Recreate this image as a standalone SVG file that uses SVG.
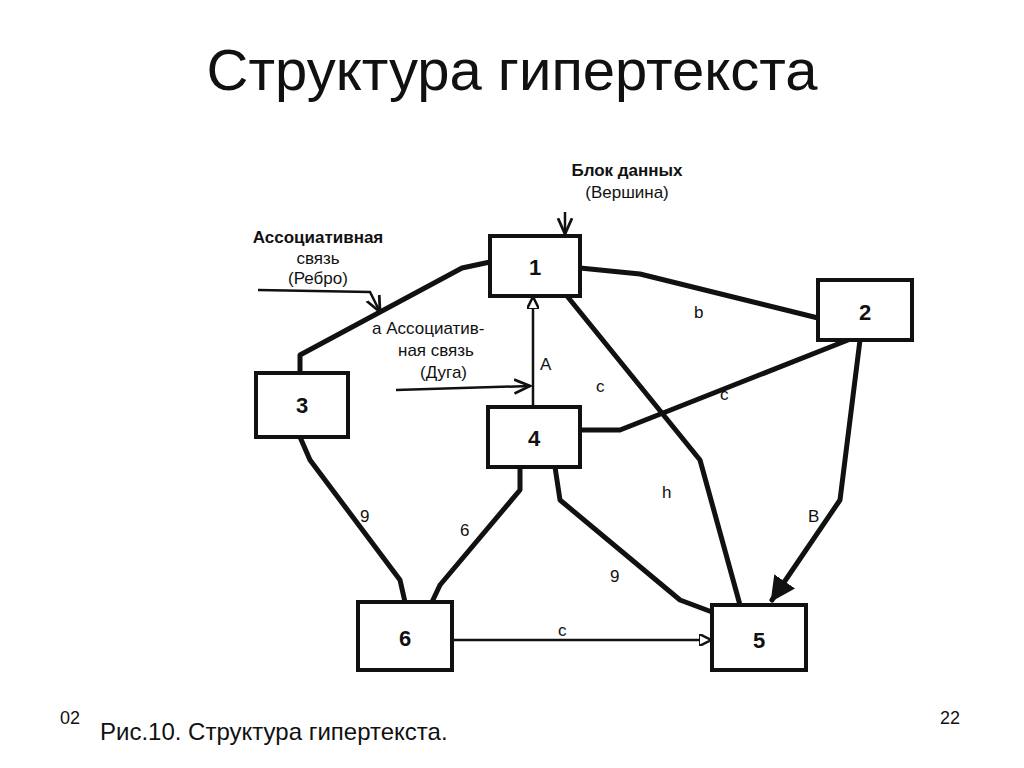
<svg xmlns="http://www.w3.org/2000/svg" width="1024" height="768" viewBox="0 0 1024 768">
<style>
text{font-family:"Liberation Sans",Arial,sans-serif;fill:#111}
.n rect{fill:#fff;stroke:#111;stroke-width:4}
.n text{font-size:22px;font-weight:bold;text-anchor:middle}
.e{fill:none;stroke:#111;stroke-width:5;stroke-linecap:round;stroke-linejoin:round}
.t{fill:none;stroke:#111;stroke-width:2.5}
.l{font-size:17px}
</style>
<defs>
<marker id="o" viewBox="0 0 10 10" refX="9" refY="5" markerWidth="5" markerHeight="5" orient="auto"><path d="M0,0L10,5L0,10Z" fill="#fff" stroke="#111" stroke-width="2"/></marker>
<marker id="f" viewBox="0 0 10 10" refX="9" refY="5" markerWidth="5" markerHeight="5" orient="auto"><path d="M0,0L10,5L0,10Z" fill="#111"/></marker>
<marker id="p" viewBox="0 0 10 10" refX="9" refY="5" markerWidth="7" markerHeight="7" orient="auto"><path d="M0,1L9,5L0,9" fill="none" stroke="#111" stroke-width="1.6"/></marker>
</defs>
<rect width="1024" height="768" fill="#fff"/>
<text x="512" y="90" font-size="58" text-anchor="middle">Структура гипертекста</text>
<g id="connectors">
<path class="e" d="M580,268 L640,274 L818,318"/>
<path class="e" d="M490,262 L462,268 L300,355 L300,373"/>
<path class="e" d="M567,296 L700,460 L740,605"/>
<path class="t" d="M533,407 L533,298" marker-end="url(#o)"/>
<path class="e" d="M580,430 L620,430 L848,340"/>
<path class="e" d="M860,340 L840,500 L772,600" marker-end="url(#f)"/>
<path class="e" d="M300,437 L310,460 L400,580 L405,602"/>
<path class="e" d="M520,467 L520,490 L440,585 L432,602"/>
<path class="e" d="M555,467 L560,500 L680,600 L712,612"/>
<path class="t" d="M452,640 L710,640" marker-end="url(#o)"/>
<path class="t" d="M565,212 L565,234" marker-end="url(#p)"/>
<path class="t" d="M258,290 L370,292 L380,312" marker-end="url(#p)"/>
<path class="t" d="M396,390 L530,386" marker-end="url(#p)"/>
</g>
<g id="n1" class="n"><rect x="490" y="236" width="90" height="60"/><text x="535" y="275">1</text></g>
<g id="n2" class="n"><rect x="818" y="280" width="94" height="60"/><text x="865" y="320">2</text></g>
<g id="n3" class="n"><rect x="256" y="373" width="92" height="64"/><text x="302" y="413">3</text></g>
<g id="n4" class="n"><rect x="488" y="407" width="92" height="60"/><text x="534" y="446">4</text></g>
<g id="n5" class="n"><rect x="712" y="605" width="94" height="65"/><text x="759" y="648">5</text></g>
<g id="n6" class="n"><rect x="358" y="602" width="94" height="68"/><text x="405" y="646">6</text></g>
<g id="labels" class="l">
<text x="627" y="176" text-anchor="middle" font-weight="bold">Блок данных</text>
<text x="627" y="198" text-anchor="middle">(Вершина)</text>
<text x="318" y="243" text-anchor="middle" font-weight="bold">Ассоциативная</text>
<text x="318" y="264" text-anchor="middle">связь</text>
<text x="318" y="284" text-anchor="middle">(Ребро)</text>
<text x="372" y="334">а Ассоциатив-</text>
<text x="398" y="356">ная  связь</text>
<text x="420" y="378">(Дуга)</text>
<text x="540" y="370">A</text>
<text x="694" y="318">b</text>
<text x="596" y="392">c</text>
<text x="720" y="400">c</text>
<text x="662" y="498">h</text>
<text x="808" y="522">B</text>
<text x="360" y="522">9</text>
<text x="460" y="536">6</text>
<text x="610" y="582">9</text>
<text x="558" y="636">c</text>
</g>
<text x="60" y="724" font-size="18">02</text>
<text x="940" y="724" font-size="18">22</text>
<text x="100" y="740" font-size="24">Рис.10. Структура гипертекста.</text>
</svg>
